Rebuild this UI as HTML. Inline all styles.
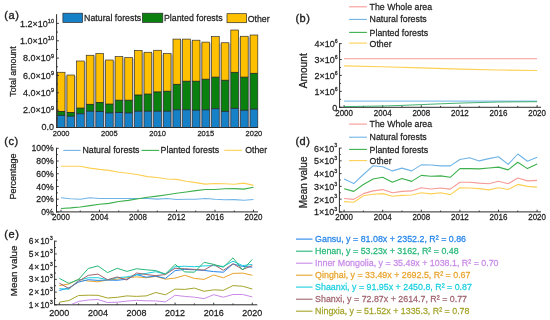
<!DOCTYPE html>
<html><head><meta charset="utf-8"><style>
html,body{margin:0;padding:0;background:#fff;width:550px;height:320px;overflow:hidden}
svg{display:block;filter:blur(0.35px)}
text{font-family:"Liberation Sans", sans-serif;stroke-width:0.25px}
</style></head><body>
<svg width="550" height="320" viewBox="0 0 550 320">
<rect width="550" height="320" fill="#fff"/>
<text transform="translate(4.30,18.50)" font-size="11.00" text-anchor="start" fill="#1e1e1e" stroke="#1e1e1e" style="stroke-width:0.35px" letter-spacing="0.55">(a)</text>
<rect x="65.00" y="76.00" width="1.94" height="51.50" fill="#cdcdda" stroke="none" stroke-width="0"/>
<rect x="74.64" y="76.00" width="1.94" height="51.50" fill="#cdcdda" stroke="none" stroke-width="0"/>
<rect x="84.28" y="62.00" width="1.94" height="65.50" fill="#cdcdda" stroke="none" stroke-width="0"/>
<rect x="93.92" y="56.25" width="1.94" height="71.25" fill="#cdcdda" stroke="none" stroke-width="0"/>
<rect x="103.56" y="61.00" width="1.94" height="66.50" fill="#cdcdda" stroke="none" stroke-width="0"/>
<rect x="113.20" y="61.00" width="1.94" height="66.50" fill="#cdcdda" stroke="none" stroke-width="0"/>
<rect x="122.84" y="58.50" width="1.94" height="69.00" fill="#cdcdda" stroke="none" stroke-width="0"/>
<rect x="132.48" y="58.50" width="1.94" height="69.00" fill="#cdcdda" stroke="none" stroke-width="0"/>
<rect x="142.12" y="53.25" width="1.94" height="74.25" fill="#cdcdda" stroke="none" stroke-width="0"/>
<rect x="151.76" y="53.25" width="1.94" height="74.25" fill="#cdcdda" stroke="none" stroke-width="0"/>
<rect x="161.40" y="54.50" width="1.94" height="73.00" fill="#cdcdda" stroke="none" stroke-width="0"/>
<rect x="171.04" y="54.50" width="1.94" height="73.00" fill="#cdcdda" stroke="none" stroke-width="0"/>
<rect x="180.68" y="40.10" width="1.94" height="87.40" fill="#cdcdda" stroke="none" stroke-width="0"/>
<rect x="190.32" y="41.20" width="1.94" height="86.30" fill="#cdcdda" stroke="none" stroke-width="0"/>
<rect x="199.96" y="43.10" width="1.94" height="84.40" fill="#cdcdda" stroke="none" stroke-width="0"/>
<rect x="209.60" y="43.10" width="1.94" height="84.40" fill="#cdcdda" stroke="none" stroke-width="0"/>
<rect x="219.24" y="43.75" width="1.94" height="83.75" fill="#cdcdda" stroke="none" stroke-width="0"/>
<rect x="228.88" y="43.75" width="1.94" height="83.75" fill="#cdcdda" stroke="none" stroke-width="0"/>
<rect x="238.52" y="37.25" width="1.94" height="90.25" fill="#cdcdda" stroke="none" stroke-width="0"/>
<rect x="248.16" y="37.25" width="1.94" height="90.25" fill="#cdcdda" stroke="none" stroke-width="0"/>
<rect x="57.30" y="72.25" width="7.70" height="39.25" fill="#ffc000" stroke="none" stroke-width="0"/>
<rect x="57.30" y="111.50" width="7.70" height="3.90" fill="#0a800f" stroke="none" stroke-width="0"/>
<rect x="57.30" y="115.40" width="7.70" height="12.10" fill="#1781c8" stroke="none" stroke-width="0"/>
<rect x="57.30" y="72.25" width="7.70" height="55.25" fill="none" stroke="#262626" stroke-width="0.65"/>
<line x1="57.30" y1="111.50" x2="65.00" y2="111.50" stroke="#1a1a1a" stroke-width="0.8"/>
<line x1="57.30" y1="115.40" x2="65.00" y2="115.40" stroke="#1a1a1a" stroke-width="0.8"/>
<rect x="66.94" y="75.00" width="7.70" height="37.50" fill="#ffc000" stroke="none" stroke-width="0"/>
<rect x="66.94" y="112.50" width="7.70" height="3.75" fill="#0a800f" stroke="none" stroke-width="0"/>
<rect x="66.94" y="116.25" width="7.70" height="11.25" fill="#1781c8" stroke="none" stroke-width="0"/>
<rect x="66.94" y="75.00" width="7.70" height="52.50" fill="none" stroke="#262626" stroke-width="0.65"/>
<line x1="66.94" y1="112.50" x2="74.64" y2="112.50" stroke="#1a1a1a" stroke-width="0.8"/>
<line x1="66.94" y1="116.25" x2="74.64" y2="116.25" stroke="#1a1a1a" stroke-width="0.8"/>
<rect x="76.58" y="61.00" width="7.70" height="47.10" fill="#ffc000" stroke="none" stroke-width="0"/>
<rect x="76.58" y="108.10" width="7.70" height="5.65" fill="#0a800f" stroke="none" stroke-width="0"/>
<rect x="76.58" y="113.75" width="7.70" height="13.75" fill="#1781c8" stroke="none" stroke-width="0"/>
<rect x="76.58" y="61.00" width="7.70" height="66.50" fill="none" stroke="#262626" stroke-width="0.65"/>
<line x1="76.58" y1="108.10" x2="84.28" y2="108.10" stroke="#1a1a1a" stroke-width="0.8"/>
<line x1="76.58" y1="113.75" x2="84.28" y2="113.75" stroke="#1a1a1a" stroke-width="0.8"/>
<rect x="86.22" y="55.25" width="7.70" height="49.15" fill="#ffc000" stroke="none" stroke-width="0"/>
<rect x="86.22" y="104.40" width="7.70" height="6.85" fill="#0a800f" stroke="none" stroke-width="0"/>
<rect x="86.22" y="111.25" width="7.70" height="16.25" fill="#1781c8" stroke="none" stroke-width="0"/>
<rect x="86.22" y="55.25" width="7.70" height="72.25" fill="none" stroke="#262626" stroke-width="0.65"/>
<line x1="86.22" y1="104.40" x2="93.92" y2="104.40" stroke="#1a1a1a" stroke-width="0.8"/>
<line x1="86.22" y1="111.25" x2="93.92" y2="111.25" stroke="#1a1a1a" stroke-width="0.8"/>
<rect x="95.86" y="53.50" width="7.70" height="49.00" fill="#ffc000" stroke="none" stroke-width="0"/>
<rect x="95.86" y="102.50" width="7.70" height="9.00" fill="#0a800f" stroke="none" stroke-width="0"/>
<rect x="95.86" y="111.50" width="7.70" height="16.00" fill="#1781c8" stroke="none" stroke-width="0"/>
<rect x="95.86" y="53.50" width="7.70" height="74.00" fill="none" stroke="#262626" stroke-width="0.65"/>
<line x1="95.86" y1="102.50" x2="103.56" y2="102.50" stroke="#1a1a1a" stroke-width="0.8"/>
<line x1="95.86" y1="111.50" x2="103.56" y2="111.50" stroke="#1a1a1a" stroke-width="0.8"/>
<rect x="105.50" y="60.00" width="7.70" height="44.10" fill="#ffc000" stroke="none" stroke-width="0"/>
<rect x="105.50" y="104.10" width="7.70" height="8.80" fill="#0a800f" stroke="none" stroke-width="0"/>
<rect x="105.50" y="112.90" width="7.70" height="14.60" fill="#1781c8" stroke="none" stroke-width="0"/>
<rect x="105.50" y="60.00" width="7.70" height="67.50" fill="none" stroke="#262626" stroke-width="0.65"/>
<line x1="105.50" y1="104.10" x2="113.20" y2="104.10" stroke="#1a1a1a" stroke-width="0.8"/>
<line x1="105.50" y1="112.90" x2="113.20" y2="112.90" stroke="#1a1a1a" stroke-width="0.8"/>
<rect x="115.14" y="56.60" width="7.70" height="43.65" fill="#ffc000" stroke="none" stroke-width="0"/>
<rect x="115.14" y="100.25" width="7.70" height="12.25" fill="#0a800f" stroke="none" stroke-width="0"/>
<rect x="115.14" y="112.50" width="7.70" height="15.00" fill="#1781c8" stroke="none" stroke-width="0"/>
<rect x="115.14" y="56.60" width="7.70" height="70.90" fill="none" stroke="#262626" stroke-width="0.65"/>
<line x1="115.14" y1="100.25" x2="122.84" y2="100.25" stroke="#1a1a1a" stroke-width="0.8"/>
<line x1="115.14" y1="112.50" x2="122.84" y2="112.50" stroke="#1a1a1a" stroke-width="0.8"/>
<rect x="124.78" y="57.50" width="7.70" height="42.75" fill="#ffc000" stroke="none" stroke-width="0"/>
<rect x="124.78" y="100.25" width="7.70" height="12.65" fill="#0a800f" stroke="none" stroke-width="0"/>
<rect x="124.78" y="112.90" width="7.70" height="14.60" fill="#1781c8" stroke="none" stroke-width="0"/>
<rect x="124.78" y="57.50" width="7.70" height="70.00" fill="none" stroke="#262626" stroke-width="0.65"/>
<line x1="124.78" y1="100.25" x2="132.48" y2="100.25" stroke="#1a1a1a" stroke-width="0.8"/>
<line x1="124.78" y1="112.90" x2="132.48" y2="112.90" stroke="#1a1a1a" stroke-width="0.8"/>
<rect x="134.42" y="50.40" width="7.70" height="44.60" fill="#ffc000" stroke="none" stroke-width="0"/>
<rect x="134.42" y="95.00" width="7.70" height="16.25" fill="#0a800f" stroke="none" stroke-width="0"/>
<rect x="134.42" y="111.25" width="7.70" height="16.25" fill="#1781c8" stroke="none" stroke-width="0"/>
<rect x="134.42" y="50.40" width="7.70" height="77.10" fill="none" stroke="#262626" stroke-width="0.65"/>
<line x1="134.42" y1="95.00" x2="142.12" y2="95.00" stroke="#1a1a1a" stroke-width="0.8"/>
<line x1="134.42" y1="111.25" x2="142.12" y2="111.25" stroke="#1a1a1a" stroke-width="0.8"/>
<rect x="144.06" y="52.25" width="7.70" height="41.85" fill="#ffc000" stroke="none" stroke-width="0"/>
<rect x="144.06" y="94.10" width="7.70" height="17.15" fill="#0a800f" stroke="none" stroke-width="0"/>
<rect x="144.06" y="111.25" width="7.70" height="16.25" fill="#1781c8" stroke="none" stroke-width="0"/>
<rect x="144.06" y="52.25" width="7.70" height="75.25" fill="none" stroke="#262626" stroke-width="0.65"/>
<line x1="144.06" y1="94.10" x2="151.76" y2="94.10" stroke="#1a1a1a" stroke-width="0.8"/>
<line x1="144.06" y1="111.25" x2="151.76" y2="111.25" stroke="#1a1a1a" stroke-width="0.8"/>
<rect x="153.70" y="50.25" width="7.70" height="41.65" fill="#ffc000" stroke="none" stroke-width="0"/>
<rect x="153.70" y="91.90" width="7.70" height="19.35" fill="#0a800f" stroke="none" stroke-width="0"/>
<rect x="153.70" y="111.25" width="7.70" height="16.25" fill="#1781c8" stroke="none" stroke-width="0"/>
<rect x="153.70" y="50.25" width="7.70" height="77.25" fill="none" stroke="#262626" stroke-width="0.65"/>
<line x1="153.70" y1="91.90" x2="161.40" y2="91.90" stroke="#1a1a1a" stroke-width="0.8"/>
<line x1="153.70" y1="111.25" x2="161.40" y2="111.25" stroke="#1a1a1a" stroke-width="0.8"/>
<rect x="163.34" y="53.50" width="7.70" height="37.75" fill="#ffc000" stroke="none" stroke-width="0"/>
<rect x="163.34" y="91.25" width="7.70" height="20.00" fill="#0a800f" stroke="none" stroke-width="0"/>
<rect x="163.34" y="111.25" width="7.70" height="16.25" fill="#1781c8" stroke="none" stroke-width="0"/>
<rect x="163.34" y="53.50" width="7.70" height="74.00" fill="none" stroke="#262626" stroke-width="0.65"/>
<line x1="163.34" y1="91.25" x2="171.04" y2="91.25" stroke="#1a1a1a" stroke-width="0.8"/>
<line x1="163.34" y1="111.25" x2="171.04" y2="111.25" stroke="#1a1a1a" stroke-width="0.8"/>
<rect x="172.98" y="39.10" width="7.70" height="45.30" fill="#ffc000" stroke="none" stroke-width="0"/>
<rect x="172.98" y="84.40" width="7.70" height="25.35" fill="#0a800f" stroke="none" stroke-width="0"/>
<rect x="172.98" y="109.75" width="7.70" height="17.75" fill="#1781c8" stroke="none" stroke-width="0"/>
<rect x="172.98" y="39.10" width="7.70" height="88.40" fill="none" stroke="#262626" stroke-width="0.65"/>
<line x1="172.98" y1="84.40" x2="180.68" y2="84.40" stroke="#1a1a1a" stroke-width="0.8"/>
<line x1="172.98" y1="109.75" x2="180.68" y2="109.75" stroke="#1a1a1a" stroke-width="0.8"/>
<rect x="182.62" y="39.10" width="7.70" height="42.15" fill="#ffc000" stroke="none" stroke-width="0"/>
<rect x="182.62" y="81.25" width="7.70" height="28.50" fill="#0a800f" stroke="none" stroke-width="0"/>
<rect x="182.62" y="109.75" width="7.70" height="17.75" fill="#1781c8" stroke="none" stroke-width="0"/>
<rect x="182.62" y="39.10" width="7.70" height="88.40" fill="none" stroke="#262626" stroke-width="0.65"/>
<line x1="182.62" y1="81.25" x2="190.32" y2="81.25" stroke="#1a1a1a" stroke-width="0.8"/>
<line x1="182.62" y1="109.75" x2="190.32" y2="109.75" stroke="#1a1a1a" stroke-width="0.8"/>
<rect x="192.26" y="40.20" width="7.70" height="41.05" fill="#ffc000" stroke="none" stroke-width="0"/>
<rect x="192.26" y="81.25" width="7.70" height="29.00" fill="#0a800f" stroke="none" stroke-width="0"/>
<rect x="192.26" y="110.25" width="7.70" height="17.25" fill="#1781c8" stroke="none" stroke-width="0"/>
<rect x="192.26" y="40.20" width="7.70" height="87.30" fill="none" stroke="#262626" stroke-width="0.65"/>
<line x1="192.26" y1="81.25" x2="199.96" y2="81.25" stroke="#1a1a1a" stroke-width="0.8"/>
<line x1="192.26" y1="110.25" x2="199.96" y2="110.25" stroke="#1a1a1a" stroke-width="0.8"/>
<rect x="201.90" y="42.10" width="7.70" height="37.15" fill="#ffc000" stroke="none" stroke-width="0"/>
<rect x="201.90" y="79.25" width="7.70" height="30.55" fill="#0a800f" stroke="none" stroke-width="0"/>
<rect x="201.90" y="109.80" width="7.70" height="17.70" fill="#1781c8" stroke="none" stroke-width="0"/>
<rect x="201.90" y="42.10" width="7.70" height="85.40" fill="none" stroke="#262626" stroke-width="0.65"/>
<line x1="201.90" y1="79.25" x2="209.60" y2="79.25" stroke="#1a1a1a" stroke-width="0.8"/>
<line x1="201.90" y1="109.80" x2="209.60" y2="109.80" stroke="#1a1a1a" stroke-width="0.8"/>
<rect x="211.54" y="36.60" width="7.70" height="40.60" fill="#ffc000" stroke="none" stroke-width="0"/>
<rect x="211.54" y="77.20" width="7.70" height="31.50" fill="#0a800f" stroke="none" stroke-width="0"/>
<rect x="211.54" y="108.70" width="7.70" height="18.80" fill="#1781c8" stroke="none" stroke-width="0"/>
<rect x="211.54" y="36.60" width="7.70" height="90.90" fill="none" stroke="#262626" stroke-width="0.65"/>
<line x1="211.54" y1="77.20" x2="219.24" y2="77.20" stroke="#1a1a1a" stroke-width="0.8"/>
<line x1="211.54" y1="108.70" x2="219.24" y2="108.70" stroke="#1a1a1a" stroke-width="0.8"/>
<rect x="221.18" y="42.75" width="7.70" height="37.55" fill="#ffc000" stroke="none" stroke-width="0"/>
<rect x="221.18" y="80.30" width="7.70" height="31.10" fill="#0a800f" stroke="none" stroke-width="0"/>
<rect x="221.18" y="111.40" width="7.70" height="16.10" fill="#1781c8" stroke="none" stroke-width="0"/>
<rect x="221.18" y="42.75" width="7.70" height="84.75" fill="none" stroke="#262626" stroke-width="0.65"/>
<line x1="221.18" y1="80.30" x2="228.88" y2="80.30" stroke="#1a1a1a" stroke-width="0.8"/>
<line x1="221.18" y1="111.40" x2="228.88" y2="111.40" stroke="#1a1a1a" stroke-width="0.8"/>
<rect x="230.82" y="30.00" width="7.70" height="42.40" fill="#ffc000" stroke="none" stroke-width="0"/>
<rect x="230.82" y="72.40" width="7.70" height="36.00" fill="#0a800f" stroke="none" stroke-width="0"/>
<rect x="230.82" y="108.40" width="7.70" height="19.10" fill="#1781c8" stroke="none" stroke-width="0"/>
<rect x="230.82" y="30.00" width="7.70" height="97.50" fill="none" stroke="#262626" stroke-width="0.65"/>
<line x1="230.82" y1="72.40" x2="238.52" y2="72.40" stroke="#1a1a1a" stroke-width="0.8"/>
<line x1="230.82" y1="108.40" x2="238.52" y2="108.40" stroke="#1a1a1a" stroke-width="0.8"/>
<rect x="240.46" y="36.25" width="7.70" height="40.95" fill="#ffc000" stroke="none" stroke-width="0"/>
<rect x="240.46" y="77.20" width="7.70" height="33.10" fill="#0a800f" stroke="none" stroke-width="0"/>
<rect x="240.46" y="110.30" width="7.70" height="17.20" fill="#1781c8" stroke="none" stroke-width="0"/>
<rect x="240.46" y="36.25" width="7.70" height="91.25" fill="none" stroke="#262626" stroke-width="0.65"/>
<line x1="240.46" y1="77.20" x2="248.16" y2="77.20" stroke="#1a1a1a" stroke-width="0.8"/>
<line x1="240.46" y1="110.30" x2="248.16" y2="110.30" stroke="#1a1a1a" stroke-width="0.8"/>
<rect x="250.10" y="35.00" width="7.70" height="38.40" fill="#ffc000" stroke="none" stroke-width="0"/>
<rect x="250.10" y="73.40" width="7.70" height="35.80" fill="#0a800f" stroke="none" stroke-width="0"/>
<rect x="250.10" y="109.20" width="7.70" height="18.30" fill="#1781c8" stroke="none" stroke-width="0"/>
<rect x="250.10" y="35.00" width="7.70" height="92.50" fill="none" stroke="#262626" stroke-width="0.65"/>
<line x1="250.10" y1="73.40" x2="257.80" y2="73.40" stroke="#1a1a1a" stroke-width="0.8"/>
<line x1="250.10" y1="109.20" x2="257.80" y2="109.20" stroke="#1a1a1a" stroke-width="0.8"/>
<line x1="56.60" y1="14.20" x2="56.60" y2="128.00" stroke="#2a2a2a" stroke-width="1"/>
<line x1="56.10" y1="127.50" x2="258.00" y2="127.50" stroke="#2a2a2a" stroke-width="1"/>
<line x1="56.60" y1="127.50" x2="58.90" y2="127.50" stroke="#2a2a2a" stroke-width="0.9"/>
<line x1="56.60" y1="118.83" x2="58.00" y2="118.83" stroke="#2a2a2a" stroke-width="0.9"/>
<line x1="56.60" y1="110.15" x2="58.90" y2="110.15" stroke="#2a2a2a" stroke-width="0.9"/>
<line x1="56.60" y1="101.48" x2="58.00" y2="101.48" stroke="#2a2a2a" stroke-width="0.9"/>
<line x1="56.60" y1="92.80" x2="58.90" y2="92.80" stroke="#2a2a2a" stroke-width="0.9"/>
<line x1="56.60" y1="84.13" x2="58.00" y2="84.13" stroke="#2a2a2a" stroke-width="0.9"/>
<line x1="56.60" y1="75.45" x2="58.90" y2="75.45" stroke="#2a2a2a" stroke-width="0.9"/>
<line x1="56.60" y1="66.78" x2="58.00" y2="66.78" stroke="#2a2a2a" stroke-width="0.9"/>
<line x1="56.60" y1="58.10" x2="58.90" y2="58.10" stroke="#2a2a2a" stroke-width="0.9"/>
<line x1="56.60" y1="49.43" x2="58.00" y2="49.43" stroke="#2a2a2a" stroke-width="0.9"/>
<line x1="56.60" y1="40.75" x2="58.90" y2="40.75" stroke="#2a2a2a" stroke-width="0.9"/>
<line x1="56.60" y1="32.08" x2="58.00" y2="32.08" stroke="#2a2a2a" stroke-width="0.9"/>
<line x1="56.60" y1="23.40" x2="58.90" y2="23.40" stroke="#2a2a2a" stroke-width="0.9"/>
<text transform="translate(53.90,130.00) scale(0.9259,1)" font-size="9.72" text-anchor="end" fill="#1e1e1e" stroke="#1e1e1e">0.0</text>
<text transform="translate(54.00,113.45) scale(0.9259,1)" font-size="9.72" text-anchor="end" fill="#1e1e1e" stroke="#1e1e1e">2.0×10<tspan font-size="6.05" dy="-3.90">9</tspan></text>
<text transform="translate(54.00,96.10) scale(0.9259,1)" font-size="9.72" text-anchor="end" fill="#1e1e1e" stroke="#1e1e1e">4.0×10<tspan font-size="6.05" dy="-3.90">9</tspan></text>
<text transform="translate(54.00,78.75) scale(0.9259,1)" font-size="9.72" text-anchor="end" fill="#1e1e1e" stroke="#1e1e1e">6.0×10<tspan font-size="6.05" dy="-3.90">9</tspan></text>
<text transform="translate(54.00,61.40) scale(0.9259,1)" font-size="9.72" text-anchor="end" fill="#1e1e1e" stroke="#1e1e1e">8.0×10<tspan font-size="6.05" dy="-3.90">9</tspan></text>
<text transform="translate(54.00,44.05) scale(0.9259,1)" font-size="9.72" text-anchor="end" fill="#1e1e1e" stroke="#1e1e1e">1.0×10<tspan font-size="6.05" dy="-3.90">10</tspan></text>
<text transform="translate(54.00,26.70) scale(0.9259,1)" font-size="9.72" text-anchor="end" fill="#1e1e1e" stroke="#1e1e1e">1.2×10<tspan font-size="6.05" dy="-3.90">10</tspan></text>
<text transform="translate(61.15,135.60) scale(0.9259,1)" font-size="8.10" text-anchor="middle" fill="#1e1e1e" stroke="#1e1e1e">2000</text>
<text transform="translate(109.35,135.60) scale(0.9259,1)" font-size="8.10" text-anchor="middle" fill="#1e1e1e" stroke="#1e1e1e">2005</text>
<text transform="translate(157.55,135.60) scale(0.9259,1)" font-size="8.10" text-anchor="middle" fill="#1e1e1e" stroke="#1e1e1e">2010</text>
<text transform="translate(205.75,135.60) scale(0.9259,1)" font-size="8.10" text-anchor="middle" fill="#1e1e1e" stroke="#1e1e1e">2015</text>
<text transform="translate(253.95,135.60) scale(0.9259,1)" font-size="8.10" text-anchor="middle" fill="#1e1e1e" stroke="#1e1e1e">2020</text>
<text transform="translate(16.40,71.50) rotate(-90)" font-size="8.80" text-anchor="middle" fill="#1e1e1e" stroke="#1e1e1e">Total amount</text>
<rect x="62.90" y="13.20" width="19.60" height="9.20" fill="#1781c8" stroke="#2a2a2a" stroke-width="0.7"/>
<text transform="translate(84.10,20.70) scale(0.9259,1)" font-size="9.50" text-anchor="start" fill="#1e1e1e" stroke="#1e1e1e">Natural forests</text>
<rect x="142.40" y="13.20" width="20.40" height="9.20" fill="#0a800f" stroke="#2a2a2a" stroke-width="0.7"/>
<text transform="translate(164.00,20.70) scale(0.9259,1)" font-size="9.50" text-anchor="start" fill="#1e1e1e" stroke="#1e1e1e">Planted forests</text>
<rect x="227.00" y="13.70" width="19.60" height="9.00" fill="#ffc000" stroke="#2a2a2a" stroke-width="0.7"/>
<text transform="translate(247.70,21.90) scale(0.9259,1)" font-size="9.50" text-anchor="start" fill="#1e1e1e" stroke="#1e1e1e">Other</text>
<text transform="translate(4.30,145.20)" font-size="11.00" text-anchor="start" fill="#1e1e1e" stroke="#1e1e1e" style="stroke-width:0.35px" letter-spacing="0.55">(c)</text>
<line x1="56.50" y1="147.80" x2="56.50" y2="212.40" stroke="#2a2a2a" stroke-width="1"/>
<line x1="56.00" y1="211.90" x2="258.00" y2="211.90" stroke="#2a2a2a" stroke-width="1"/>
<line x1="56.50" y1="211.90" x2="58.70" y2="211.90" stroke="#2a2a2a" stroke-width="0.9"/>
<line x1="56.50" y1="205.54" x2="57.90" y2="205.54" stroke="#2a2a2a" stroke-width="0.9"/>
<line x1="56.50" y1="199.18" x2="58.70" y2="199.18" stroke="#2a2a2a" stroke-width="0.9"/>
<line x1="56.50" y1="192.82" x2="57.90" y2="192.82" stroke="#2a2a2a" stroke-width="0.9"/>
<line x1="56.50" y1="186.46" x2="58.70" y2="186.46" stroke="#2a2a2a" stroke-width="0.9"/>
<line x1="56.50" y1="180.10" x2="57.90" y2="180.10" stroke="#2a2a2a" stroke-width="0.9"/>
<line x1="56.50" y1="173.74" x2="58.70" y2="173.74" stroke="#2a2a2a" stroke-width="0.9"/>
<line x1="56.50" y1="167.38" x2="57.90" y2="167.38" stroke="#2a2a2a" stroke-width="0.9"/>
<line x1="56.50" y1="161.02" x2="58.70" y2="161.02" stroke="#2a2a2a" stroke-width="0.9"/>
<line x1="56.50" y1="154.66" x2="57.90" y2="154.66" stroke="#2a2a2a" stroke-width="0.9"/>
<line x1="56.50" y1="148.30" x2="58.70" y2="148.30" stroke="#2a2a2a" stroke-width="0.9"/>
<text transform="translate(53.70,215.00) scale(0.9259,1)" font-size="9.40" text-anchor="end" fill="#1e1e1e" stroke="#1e1e1e">0%</text>
<text transform="translate(53.70,202.28) scale(0.9259,1)" font-size="9.40" text-anchor="end" fill="#1e1e1e" stroke="#1e1e1e">20%</text>
<text transform="translate(53.70,189.56) scale(0.9259,1)" font-size="9.40" text-anchor="end" fill="#1e1e1e" stroke="#1e1e1e">40%</text>
<text transform="translate(53.70,176.84) scale(0.9259,1)" font-size="9.40" text-anchor="end" fill="#1e1e1e" stroke="#1e1e1e">60%</text>
<text transform="translate(53.70,164.12) scale(0.9259,1)" font-size="9.40" text-anchor="end" fill="#1e1e1e" stroke="#1e1e1e">80%</text>
<text transform="translate(53.70,151.40) scale(0.9259,1)" font-size="9.40" text-anchor="end" fill="#1e1e1e" stroke="#1e1e1e">100%</text>
<line x1="61.00" y1="211.90" x2="61.00" y2="209.70" stroke="#2a2a2a" stroke-width="0.9"/>
<line x1="80.25" y1="211.90" x2="80.25" y2="210.50" stroke="#2a2a2a" stroke-width="0.9"/>
<line x1="99.50" y1="211.90" x2="99.50" y2="209.70" stroke="#2a2a2a" stroke-width="0.9"/>
<line x1="118.75" y1="211.90" x2="118.75" y2="210.50" stroke="#2a2a2a" stroke-width="0.9"/>
<line x1="138.00" y1="211.90" x2="138.00" y2="209.70" stroke="#2a2a2a" stroke-width="0.9"/>
<line x1="157.25" y1="211.90" x2="157.25" y2="210.50" stroke="#2a2a2a" stroke-width="0.9"/>
<line x1="176.50" y1="211.90" x2="176.50" y2="209.70" stroke="#2a2a2a" stroke-width="0.9"/>
<line x1="195.75" y1="211.90" x2="195.75" y2="210.50" stroke="#2a2a2a" stroke-width="0.9"/>
<line x1="215.00" y1="211.90" x2="215.00" y2="209.70" stroke="#2a2a2a" stroke-width="0.9"/>
<line x1="234.25" y1="211.90" x2="234.25" y2="210.50" stroke="#2a2a2a" stroke-width="0.9"/>
<line x1="253.50" y1="211.90" x2="253.50" y2="209.70" stroke="#2a2a2a" stroke-width="0.9"/>
<text transform="translate(61.00,220.30) scale(0.9259,1)" font-size="8.64" text-anchor="middle" fill="#1e1e1e" stroke="#1e1e1e">2000</text>
<text transform="translate(99.50,220.30) scale(0.9259,1)" font-size="8.64" text-anchor="middle" fill="#1e1e1e" stroke="#1e1e1e">2004</text>
<text transform="translate(138.00,220.30) scale(0.9259,1)" font-size="8.64" text-anchor="middle" fill="#1e1e1e" stroke="#1e1e1e">2008</text>
<text transform="translate(176.50,220.30) scale(0.9259,1)" font-size="8.64" text-anchor="middle" fill="#1e1e1e" stroke="#1e1e1e">2012</text>
<text transform="translate(215.00,220.30) scale(0.9259,1)" font-size="8.64" text-anchor="middle" fill="#1e1e1e" stroke="#1e1e1e">2016</text>
<text transform="translate(253.50,220.30) scale(0.9259,1)" font-size="8.64" text-anchor="middle" fill="#1e1e1e" stroke="#1e1e1e">2020</text>
<text transform="translate(16.10,176.50) rotate(-90)" font-size="9.00" text-anchor="middle" fill="#1e1e1e" stroke="#1e1e1e">Percentage</text>
<polyline points="61.00,166.25 70.62,166.25 80.25,166.25 89.88,168.10 99.50,169.40 109.12,170.40 118.75,172.30 128.38,173.20 138.00,174.70 147.62,176.60 157.25,177.50 166.88,179.00 176.50,179.40 186.12,181.30 195.75,182.60 205.38,184.10 215.00,183.50 224.62,183.70 234.25,184.30 243.88,183.10 253.50,185.40" fill="none" stroke="#fdd054" stroke-width="1.1" stroke-linejoin="round" />
<polyline points="61.00,197.80 70.62,198.70 80.25,199.30 89.88,197.80 99.50,198.50 109.12,198.50 118.75,198.50 128.38,198.50 138.00,198.50 147.62,198.50 157.25,199.10 166.88,198.50 176.50,199.50 186.12,199.30 195.75,199.30 205.38,198.50 215.00,199.30 224.62,199.80 234.25,199.60 243.88,200.20 253.50,199.50" fill="none" stroke="#70b4e6" stroke-width="1.1" stroke-linejoin="round" />
<polyline points="61.00,208.50 70.62,207.90 80.25,207.00 89.88,205.60 99.50,204.30 109.12,203.40 118.75,201.50 128.38,200.40 138.00,198.70 147.62,197.20 157.25,196.10 166.88,194.80 176.50,193.30 186.12,192.00 195.75,190.60 205.38,189.50 215.00,189.50 224.62,188.80 234.25,188.60 243.88,189.10 253.50,187.30" fill="none" stroke="#3cb04c" stroke-width="1.1" stroke-linejoin="round" />
<line x1="63.30" y1="150.40" x2="80.50" y2="150.40" stroke="#70b4e6" stroke-width="1.1"/>
<text transform="translate(82.40,152.60) scale(0.9259,1)" font-size="9.50" text-anchor="start" fill="#1e1e1e" stroke="#1e1e1e">Natural forests</text>
<line x1="141.50" y1="150.40" x2="159.10" y2="150.40" stroke="#3cb04c" stroke-width="1.1"/>
<text transform="translate(160.60,152.60) scale(0.9259,1)" font-size="9.50" text-anchor="start" fill="#1e1e1e" stroke="#1e1e1e">Planted forests</text>
<line x1="224.30" y1="150.30" x2="242.00" y2="150.30" stroke="#fdd054" stroke-width="1.1"/>
<text transform="translate(245.20,152.60) scale(0.9259,1)" font-size="9.50" text-anchor="start" fill="#1e1e1e" stroke="#1e1e1e">Other</text>
<text transform="translate(295.40,21.50)" font-size="11.00" text-anchor="start" fill="#1e1e1e" stroke="#1e1e1e" style="stroke-width:0.35px" letter-spacing="0.55">(b)</text>
<line x1="339.60" y1="43.10" x2="339.60" y2="107.80" stroke="#2a2a2a" stroke-width="1"/>
<line x1="339.10" y1="107.30" x2="541.00" y2="107.30" stroke="#2a2a2a" stroke-width="1"/>
<line x1="339.60" y1="107.30" x2="341.80" y2="107.30" stroke="#2a2a2a" stroke-width="0.9"/>
<line x1="339.60" y1="99.34" x2="341.00" y2="99.34" stroke="#2a2a2a" stroke-width="0.9"/>
<line x1="339.60" y1="91.38" x2="341.80" y2="91.38" stroke="#2a2a2a" stroke-width="0.9"/>
<line x1="339.60" y1="83.41" x2="341.00" y2="83.41" stroke="#2a2a2a" stroke-width="0.9"/>
<line x1="339.60" y1="75.45" x2="341.80" y2="75.45" stroke="#2a2a2a" stroke-width="0.9"/>
<line x1="339.60" y1="67.49" x2="341.00" y2="67.49" stroke="#2a2a2a" stroke-width="0.9"/>
<line x1="339.60" y1="59.52" x2="341.80" y2="59.52" stroke="#2a2a2a" stroke-width="0.9"/>
<line x1="339.60" y1="51.56" x2="341.00" y2="51.56" stroke="#2a2a2a" stroke-width="0.9"/>
<line x1="339.60" y1="43.60" x2="341.80" y2="43.60" stroke="#2a2a2a" stroke-width="0.9"/>
<text transform="translate(337.20,110.70) scale(0.9259,1)" font-size="9.72" text-anchor="end" fill="#1e1e1e" stroke="#1e1e1e">0</text>
<text transform="translate(337.60,94.88) scale(0.9259,1)" font-size="9.72" text-anchor="end" fill="#1e1e1e" stroke="#1e1e1e">1×10<tspan font-size="5.62" dy="-4.20">6</tspan></text>
<text transform="translate(337.60,78.95) scale(0.9259,1)" font-size="9.72" text-anchor="end" fill="#1e1e1e" stroke="#1e1e1e">2×10<tspan font-size="5.62" dy="-4.20">6</tspan></text>
<text transform="translate(337.60,63.02) scale(0.9259,1)" font-size="9.72" text-anchor="end" fill="#1e1e1e" stroke="#1e1e1e">3×10<tspan font-size="5.62" dy="-4.20">6</tspan></text>
<text transform="translate(337.60,47.10) scale(0.9259,1)" font-size="9.72" text-anchor="end" fill="#1e1e1e" stroke="#1e1e1e">4×10<tspan font-size="5.62" dy="-4.20">6</tspan></text>
<line x1="344.10" y1="107.30" x2="344.10" y2="105.10" stroke="#2a2a2a" stroke-width="0.9"/>
<line x1="363.40" y1="107.30" x2="363.40" y2="105.90" stroke="#2a2a2a" stroke-width="0.9"/>
<line x1="382.70" y1="107.30" x2="382.70" y2="105.10" stroke="#2a2a2a" stroke-width="0.9"/>
<line x1="402.00" y1="107.30" x2="402.00" y2="105.90" stroke="#2a2a2a" stroke-width="0.9"/>
<line x1="421.30" y1="107.30" x2="421.30" y2="105.10" stroke="#2a2a2a" stroke-width="0.9"/>
<line x1="440.60" y1="107.30" x2="440.60" y2="105.90" stroke="#2a2a2a" stroke-width="0.9"/>
<line x1="459.90" y1="107.30" x2="459.90" y2="105.10" stroke="#2a2a2a" stroke-width="0.9"/>
<line x1="479.20" y1="107.30" x2="479.20" y2="105.90" stroke="#2a2a2a" stroke-width="0.9"/>
<line x1="498.50" y1="107.30" x2="498.50" y2="105.10" stroke="#2a2a2a" stroke-width="0.9"/>
<line x1="517.80" y1="107.30" x2="517.80" y2="105.90" stroke="#2a2a2a" stroke-width="0.9"/>
<line x1="537.10" y1="107.30" x2="537.10" y2="105.10" stroke="#2a2a2a" stroke-width="0.9"/>
<text transform="translate(344.10,115.50) scale(0.9259,1)" font-size="8.64" text-anchor="middle" fill="#1e1e1e" stroke="#1e1e1e">2000</text>
<text transform="translate(382.70,115.50) scale(0.9259,1)" font-size="8.64" text-anchor="middle" fill="#1e1e1e" stroke="#1e1e1e">2004</text>
<text transform="translate(421.30,115.50) scale(0.9259,1)" font-size="8.64" text-anchor="middle" fill="#1e1e1e" stroke="#1e1e1e">2008</text>
<text transform="translate(459.90,115.50) scale(0.9259,1)" font-size="8.64" text-anchor="middle" fill="#1e1e1e" stroke="#1e1e1e">2012</text>
<text transform="translate(498.50,115.50) scale(0.9259,1)" font-size="8.64" text-anchor="middle" fill="#1e1e1e" stroke="#1e1e1e">2016</text>
<text transform="translate(537.10,115.50) scale(0.9259,1)" font-size="8.64" text-anchor="middle" fill="#1e1e1e" stroke="#1e1e1e">2020</text>
<text transform="translate(307.00,70.80) rotate(-90)" font-size="10.20" text-anchor="middle" fill="#1e1e1e" stroke="#1e1e1e">Amount</text>
<polyline points="344.10,58.70 537.10,58.70" fill="none" stroke="#f69a94" stroke-width="1.1" stroke-linejoin="round" />
<polyline points="344.10,65.90 382.70,66.80 421.30,67.90 459.90,69.10 498.50,70.00 537.10,70.50" fill="none" stroke="#fdd054" stroke-width="1.1" stroke-linejoin="round" />
<polyline points="344.10,101.10 537.10,101.10" fill="none" stroke="#70b4e6" stroke-width="1.0" stroke-linejoin="round" />
<polyline points="344.10,106.60 382.70,106.00 402.00,105.40 421.30,104.60 440.60,103.80 459.90,103.10 498.50,102.00 537.10,101.70" fill="none" stroke="#30a860" stroke-width="1.0" stroke-linejoin="round" stroke-opacity="0.9"/>
<line x1="349.10" y1="6.80" x2="366.90" y2="6.80" stroke="#f69a94" stroke-width="1.1"/>
<text transform="translate(369.60,9.70) scale(0.9259,1)" font-size="9.50" text-anchor="start" fill="#1e1e1e" stroke="#1e1e1e">The Whole area</text>
<line x1="349.10" y1="19.40" x2="366.90" y2="19.40" stroke="#70b4e6" stroke-width="1.1"/>
<text transform="translate(369.60,22.00) scale(0.9259,1)" font-size="9.50" text-anchor="start" fill="#1e1e1e" stroke="#1e1e1e">Natural forests</text>
<line x1="349.10" y1="32.40" x2="366.90" y2="32.40" stroke="#3cb04c" stroke-width="1.1"/>
<text transform="translate(369.60,35.60) scale(0.9259,1)" font-size="9.50" text-anchor="start" fill="#1e1e1e" stroke="#1e1e1e">Planted forests</text>
<line x1="349.10" y1="43.10" x2="366.90" y2="43.10" stroke="#fdd054" stroke-width="1.1"/>
<text transform="translate(369.60,46.50) scale(0.9259,1)" font-size="9.50" text-anchor="start" fill="#1e1e1e" stroke="#1e1e1e">Other</text>
<text transform="translate(295.40,144.90)" font-size="11.00" text-anchor="start" fill="#1e1e1e" stroke="#1e1e1e" style="stroke-width:0.35px" letter-spacing="0.55">(d)</text>
<line x1="339.40" y1="147.80" x2="339.40" y2="212.40" stroke="#2a2a2a" stroke-width="1"/>
<line x1="338.90" y1="211.90" x2="541.00" y2="211.90" stroke="#2a2a2a" stroke-width="1"/>
<line x1="339.40" y1="211.90" x2="341.60" y2="211.90" stroke="#2a2a2a" stroke-width="0.9"/>
<line x1="339.40" y1="205.52" x2="340.80" y2="205.52" stroke="#2a2a2a" stroke-width="0.9"/>
<line x1="339.40" y1="199.14" x2="341.60" y2="199.14" stroke="#2a2a2a" stroke-width="0.9"/>
<line x1="339.40" y1="192.76" x2="340.80" y2="192.76" stroke="#2a2a2a" stroke-width="0.9"/>
<line x1="339.40" y1="186.38" x2="341.60" y2="186.38" stroke="#2a2a2a" stroke-width="0.9"/>
<line x1="339.40" y1="180.00" x2="340.80" y2="180.00" stroke="#2a2a2a" stroke-width="0.9"/>
<line x1="339.40" y1="173.62" x2="341.60" y2="173.62" stroke="#2a2a2a" stroke-width="0.9"/>
<line x1="339.40" y1="167.24" x2="340.80" y2="167.24" stroke="#2a2a2a" stroke-width="0.9"/>
<line x1="339.40" y1="160.86" x2="341.60" y2="160.86" stroke="#2a2a2a" stroke-width="0.9"/>
<line x1="339.40" y1="154.48" x2="340.80" y2="154.48" stroke="#2a2a2a" stroke-width="0.9"/>
<line x1="339.40" y1="148.10" x2="341.60" y2="148.10" stroke="#2a2a2a" stroke-width="0.9"/>
<text transform="translate(337.30,215.40) scale(0.9259,1)" font-size="9.72" text-anchor="end" fill="#1e1e1e" stroke="#1e1e1e">1×10<tspan font-size="5.83" dy="-4.20">3</tspan></text>
<text transform="translate(337.30,202.64) scale(0.9259,1)" font-size="9.72" text-anchor="end" fill="#1e1e1e" stroke="#1e1e1e">2×10<tspan font-size="5.83" dy="-4.20">3</tspan></text>
<text transform="translate(337.30,189.88) scale(0.9259,1)" font-size="9.72" text-anchor="end" fill="#1e1e1e" stroke="#1e1e1e">3×10<tspan font-size="5.83" dy="-4.20">3</tspan></text>
<text transform="translate(337.30,177.12) scale(0.9259,1)" font-size="9.72" text-anchor="end" fill="#1e1e1e" stroke="#1e1e1e">4×10<tspan font-size="5.83" dy="-4.20">3</tspan></text>
<text transform="translate(337.30,164.36) scale(0.9259,1)" font-size="9.72" text-anchor="end" fill="#1e1e1e" stroke="#1e1e1e">5×10<tspan font-size="5.83" dy="-4.20">3</tspan></text>
<text transform="translate(337.30,151.60) scale(0.9259,1)" font-size="9.72" text-anchor="end" fill="#1e1e1e" stroke="#1e1e1e">6×10<tspan font-size="5.83" dy="-4.20">3</tspan></text>
<line x1="344.10" y1="211.90" x2="344.10" y2="209.70" stroke="#2a2a2a" stroke-width="0.9"/>
<line x1="363.40" y1="211.90" x2="363.40" y2="210.50" stroke="#2a2a2a" stroke-width="0.9"/>
<line x1="382.70" y1="211.90" x2="382.70" y2="209.70" stroke="#2a2a2a" stroke-width="0.9"/>
<line x1="402.00" y1="211.90" x2="402.00" y2="210.50" stroke="#2a2a2a" stroke-width="0.9"/>
<line x1="421.30" y1="211.90" x2="421.30" y2="209.70" stroke="#2a2a2a" stroke-width="0.9"/>
<line x1="440.60" y1="211.90" x2="440.60" y2="210.50" stroke="#2a2a2a" stroke-width="0.9"/>
<line x1="459.90" y1="211.90" x2="459.90" y2="209.70" stroke="#2a2a2a" stroke-width="0.9"/>
<line x1="479.20" y1="211.90" x2="479.20" y2="210.50" stroke="#2a2a2a" stroke-width="0.9"/>
<line x1="498.50" y1="211.90" x2="498.50" y2="209.70" stroke="#2a2a2a" stroke-width="0.9"/>
<line x1="517.80" y1="211.90" x2="517.80" y2="210.50" stroke="#2a2a2a" stroke-width="0.9"/>
<line x1="537.10" y1="211.90" x2="537.10" y2="209.70" stroke="#2a2a2a" stroke-width="0.9"/>
<text transform="translate(344.10,220.40) scale(0.9259,1)" font-size="8.64" text-anchor="middle" fill="#1e1e1e" stroke="#1e1e1e">2000</text>
<text transform="translate(382.70,220.40) scale(0.9259,1)" font-size="8.64" text-anchor="middle" fill="#1e1e1e" stroke="#1e1e1e">2004</text>
<text transform="translate(421.30,220.40) scale(0.9259,1)" font-size="8.64" text-anchor="middle" fill="#1e1e1e" stroke="#1e1e1e">2008</text>
<text transform="translate(459.90,220.40) scale(0.9259,1)" font-size="8.64" text-anchor="middle" fill="#1e1e1e" stroke="#1e1e1e">2012</text>
<text transform="translate(498.50,220.40) scale(0.9259,1)" font-size="8.64" text-anchor="middle" fill="#1e1e1e" stroke="#1e1e1e">2016</text>
<text transform="translate(537.10,220.40) scale(0.9259,1)" font-size="8.64" text-anchor="middle" fill="#1e1e1e" stroke="#1e1e1e">2020</text>
<text transform="translate(306.80,182.40) rotate(-90)" font-size="10.00" text-anchor="middle" fill="#1e1e1e" stroke="#1e1e1e">Mean value</text>
<polyline points="344.10,201.60 353.75,202.30 363.40,195.80 373.05,194.30 382.70,193.60 392.35,196.30 402.00,195.40 411.65,195.00 421.30,192.70 430.95,193.90 440.60,192.80 450.25,194.60 459.90,187.70 469.55,188.00 479.20,188.60 488.85,189.90 498.50,187.70 508.15,189.50 517.80,184.40 527.45,186.40 537.10,187.10" fill="none" stroke="#fdd054" stroke-width="1.1" stroke-linejoin="round" />
<polyline points="344.10,198.50 353.75,199.40 363.40,193.60 373.05,190.90 382.70,189.60 392.35,192.70 402.00,191.40 411.65,190.90 421.30,187.80 430.95,189.00 440.60,188.00 450.25,189.10 459.90,182.20 469.55,182.20 479.20,183.10 488.85,183.70 498.50,181.30 508.15,183.70 517.80,178.00 527.45,180.90 537.10,180.40" fill="none" stroke="#f69a94" stroke-width="1.1" stroke-linejoin="round" />
<polyline points="344.10,188.70 353.75,191.40 363.40,184.50 373.05,179.00 382.70,177.20 392.35,182.30 402.00,178.50 411.65,181.40 421.30,175.40 430.95,176.30 440.60,175.90 450.25,177.30 459.90,168.60 469.55,168.60 479.20,168.90 488.85,168.00 498.50,167.10 508.15,169.90 517.80,162.20 527.45,168.60 537.10,164.00" fill="none" stroke="#3cb04c" stroke-width="1.1" stroke-linejoin="round" />
<polyline points="344.10,179.00 353.75,183.60 363.40,174.50 373.05,165.80 382.70,166.70 392.35,170.90 402.00,168.10 411.65,170.90 421.30,164.90 430.95,165.00 440.60,165.90 450.25,165.90 459.90,159.50 469.55,157.70 479.20,160.90 488.85,158.60 498.50,156.80 508.15,164.40 517.80,154.00 527.45,161.30 537.10,157.30" fill="none" stroke="#70b4e6" stroke-width="1.1" stroke-linejoin="round" />
<line x1="349.10" y1="124.10" x2="366.90" y2="124.10" stroke="#f69a94" stroke-width="1.1"/>
<text transform="translate(369.60,127.10) scale(0.9259,1)" font-size="9.50" text-anchor="start" fill="#1e1e1e" stroke="#1e1e1e">The Whole area</text>
<line x1="349.10" y1="137.20" x2="366.90" y2="137.20" stroke="#70b4e6" stroke-width="1.1"/>
<text transform="translate(369.60,139.90) scale(0.9259,1)" font-size="9.50" text-anchor="start" fill="#1e1e1e" stroke="#1e1e1e">Natural forests</text>
<line x1="349.10" y1="149.40" x2="366.90" y2="149.40" stroke="#3cb04c" stroke-width="1.1"/>
<text transform="translate(369.60,152.60) scale(0.9259,1)" font-size="9.50" text-anchor="start" fill="#1e1e1e" stroke="#1e1e1e">Planted forests</text>
<line x1="349.10" y1="160.60" x2="366.90" y2="160.60" stroke="#fdd054" stroke-width="1.1"/>
<text transform="translate(369.60,164.30) scale(0.9259,1)" font-size="9.50" text-anchor="start" fill="#1e1e1e" stroke="#1e1e1e">Other</text>
<text transform="translate(4.30,238.00)" font-size="11.00" text-anchor="start" fill="#1e1e1e" stroke="#1e1e1e" style="stroke-width:0.35px" letter-spacing="0.55">(e)</text>
<line x1="54.60" y1="240.60" x2="54.60" y2="305.30" stroke="#2a2a2a" stroke-width="1"/>
<line x1="54.10" y1="304.80" x2="257.30" y2="304.80" stroke="#2a2a2a" stroke-width="1"/>
<line x1="54.60" y1="304.80" x2="56.80" y2="304.80" stroke="#2a2a2a" stroke-width="0.9"/>
<line x1="54.60" y1="298.44" x2="56.00" y2="298.44" stroke="#2a2a2a" stroke-width="0.9"/>
<line x1="54.60" y1="292.08" x2="56.80" y2="292.08" stroke="#2a2a2a" stroke-width="0.9"/>
<line x1="54.60" y1="285.72" x2="56.00" y2="285.72" stroke="#2a2a2a" stroke-width="0.9"/>
<line x1="54.60" y1="279.36" x2="56.80" y2="279.36" stroke="#2a2a2a" stroke-width="0.9"/>
<line x1="54.60" y1="273.00" x2="56.00" y2="273.00" stroke="#2a2a2a" stroke-width="0.9"/>
<line x1="54.60" y1="266.64" x2="56.80" y2="266.64" stroke="#2a2a2a" stroke-width="0.9"/>
<line x1="54.60" y1="260.28" x2="56.00" y2="260.28" stroke="#2a2a2a" stroke-width="0.9"/>
<line x1="54.60" y1="253.92" x2="56.80" y2="253.92" stroke="#2a2a2a" stroke-width="0.9"/>
<line x1="54.60" y1="247.56" x2="56.00" y2="247.56" stroke="#2a2a2a" stroke-width="0.9"/>
<line x1="54.60" y1="241.20" x2="56.80" y2="241.20" stroke="#2a2a2a" stroke-width="0.9"/>
<text transform="translate(52.90,307.80) scale(0.9259,1)" font-size="9.07" text-anchor="end" fill="#1e1e1e" stroke="#1e1e1e">1<tspan dx="0.97">×</tspan><tspan dx="0.97">10</tspan><tspan font-size="6.05" dx="0.32" dy="-3.90">3</tspan></text>
<text transform="translate(52.90,295.08) scale(0.9259,1)" font-size="9.07" text-anchor="end" fill="#1e1e1e" stroke="#1e1e1e">2<tspan dx="0.97">×</tspan><tspan dx="0.97">10</tspan><tspan font-size="6.05" dx="0.32" dy="-3.90">3</tspan></text>
<text transform="translate(52.90,282.36) scale(0.9259,1)" font-size="9.07" text-anchor="end" fill="#1e1e1e" stroke="#1e1e1e">3<tspan dx="0.97">×</tspan><tspan dx="0.97">10</tspan><tspan font-size="6.05" dx="0.32" dy="-3.90">3</tspan></text>
<text transform="translate(52.90,269.64) scale(0.9259,1)" font-size="9.07" text-anchor="end" fill="#1e1e1e" stroke="#1e1e1e">4<tspan dx="0.97">×</tspan><tspan dx="0.97">10</tspan><tspan font-size="6.05" dx="0.32" dy="-3.90">3</tspan></text>
<text transform="translate(52.90,256.92) scale(0.9259,1)" font-size="9.07" text-anchor="end" fill="#1e1e1e" stroke="#1e1e1e">5<tspan dx="0.97">×</tspan><tspan dx="0.97">10</tspan><tspan font-size="6.05" dx="0.32" dy="-3.90">3</tspan></text>
<text transform="translate(52.90,244.20) scale(0.9259,1)" font-size="9.07" text-anchor="end" fill="#1e1e1e" stroke="#1e1e1e">6<tspan dx="0.97">×</tspan><tspan dx="0.97">10</tspan><tspan font-size="6.05" dx="0.32" dy="-3.90">3</tspan></text>
<line x1="59.30" y1="304.80" x2="59.30" y2="302.60" stroke="#2a2a2a" stroke-width="0.9"/>
<line x1="78.60" y1="304.80" x2="78.60" y2="303.40" stroke="#2a2a2a" stroke-width="0.9"/>
<line x1="97.90" y1="304.80" x2="97.90" y2="302.60" stroke="#2a2a2a" stroke-width="0.9"/>
<line x1="117.20" y1="304.80" x2="117.20" y2="303.40" stroke="#2a2a2a" stroke-width="0.9"/>
<line x1="136.50" y1="304.80" x2="136.50" y2="302.60" stroke="#2a2a2a" stroke-width="0.9"/>
<line x1="155.80" y1="304.80" x2="155.80" y2="303.40" stroke="#2a2a2a" stroke-width="0.9"/>
<line x1="175.10" y1="304.80" x2="175.10" y2="302.60" stroke="#2a2a2a" stroke-width="0.9"/>
<line x1="194.40" y1="304.80" x2="194.40" y2="303.40" stroke="#2a2a2a" stroke-width="0.9"/>
<line x1="213.70" y1="304.80" x2="213.70" y2="302.60" stroke="#2a2a2a" stroke-width="0.9"/>
<line x1="233.00" y1="304.80" x2="233.00" y2="303.40" stroke="#2a2a2a" stroke-width="0.9"/>
<line x1="252.30" y1="304.80" x2="252.30" y2="302.60" stroke="#2a2a2a" stroke-width="0.9"/>
<text transform="translate(59.30,315.90) scale(0.9259,1)" font-size="9.72" text-anchor="middle" fill="#1e1e1e" stroke="#1e1e1e">2000</text>
<text transform="translate(97.90,315.90) scale(0.9259,1)" font-size="9.72" text-anchor="middle" fill="#1e1e1e" stroke="#1e1e1e">2004</text>
<text transform="translate(136.50,315.90) scale(0.9259,1)" font-size="9.72" text-anchor="middle" fill="#1e1e1e" stroke="#1e1e1e">2008</text>
<text transform="translate(175.10,315.90) scale(0.9259,1)" font-size="9.72" text-anchor="middle" fill="#1e1e1e" stroke="#1e1e1e">2012</text>
<text transform="translate(213.70,315.90) scale(0.9259,1)" font-size="9.72" text-anchor="middle" fill="#1e1e1e" stroke="#1e1e1e">2016</text>
<text transform="translate(252.30,315.90) scale(0.9259,1)" font-size="9.72" text-anchor="middle" fill="#1e1e1e" stroke="#1e1e1e">2020</text>
<text transform="translate(16.60,270.80) rotate(-90)" font-size="9.80" text-anchor="middle" fill="#1e1e1e" stroke="#1e1e1e">Mean value</text>
<clipPath id="ce"><rect x="54.6" y="230" width="210" height="74.30"/></clipPath>
<polyline points="59.30,307.50 68.95,305.50 78.60,301.40 88.25,300.00 97.90,299.50 107.55,302.50 117.20,302.20 126.85,301.10 136.50,300.30 146.15,300.80 155.80,300.90 165.45,301.90 175.10,295.30 184.75,296.40 194.40,297.20 204.05,298.60 213.70,294.70 223.35,297.20 233.00,294.50 242.65,294.50 252.30,296.90" fill="none" stroke="#c98ae8" stroke-width="1.0" stroke-linejoin="round" clip-path="url(#ce)"/>
<polyline points="59.30,302.20 68.95,300.50 78.60,295.50 88.25,295.20 97.90,295.30 107.55,298.00 117.20,297.30 126.85,295.90 136.50,296.40 146.15,295.90 155.80,292.50 165.45,294.80 175.10,289.10 184.75,289.40 194.40,288.10 204.05,291.30 213.70,289.80 223.35,290.30 233.00,285.60 242.65,286.25 252.30,289.00" fill="none" stroke="#a4a42a" stroke-width="1.0" stroke-linejoin="round" clip-path="url(#ce)"/>
<polyline points="59.30,285.60 68.95,284.00 78.60,279.30 88.25,281.00 97.90,281.80 107.55,280.00 117.20,279.20 126.85,277.70 136.50,276.90 146.15,277.70 155.80,276.40 165.45,279.20 175.10,278.10 184.75,275.30 194.40,278.40 204.05,279.40 213.70,275.00 223.35,277.80 233.00,273.40 242.65,273.10 252.30,275.30" fill="none" stroke="#e8a42c" stroke-width="1.0" stroke-linejoin="round" clip-path="url(#ce)"/>
<polyline points="59.30,290.50 68.95,287.80 78.60,282.10 88.25,279.70 97.90,280.40 107.55,280.00 117.20,280.30 126.85,279.20 136.50,274.50 146.15,277.20 155.80,276.10 165.45,278.40 175.10,270.60 184.75,269.40 194.40,269.80 204.05,270.40 213.70,271.60 223.35,272.20 233.00,264.00 242.65,266.40 252.30,267.20" fill="none" stroke="#2485ea" stroke-width="1.0" stroke-linejoin="round" clip-path="url(#ce)"/>
<polyline points="59.30,288.70 68.95,289.20 78.60,280.20 88.25,277.80 97.90,277.70 107.55,279.70 117.20,277.70 126.85,276.90 136.50,275.00 146.15,273.40 155.80,271.70 165.45,274.10 175.10,266.70 184.75,266.25 194.40,266.70 204.05,265.90 213.70,265.60 223.35,266.40 233.00,261.25 242.65,265.60 252.30,264.40" fill="none" stroke="#1ccfe0" stroke-width="1.0" stroke-linejoin="round" clip-path="url(#ce)"/>
<polyline points="59.30,283.10 68.95,288.50 78.60,281.20 88.25,275.40 97.90,274.10 107.55,279.80 117.20,276.90 126.85,280.00 136.50,273.00 146.15,274.50 155.80,275.70 165.45,274.50 175.10,268.30 184.75,268.75 194.40,269.40 204.05,270.10 213.70,264.40 223.35,270.30 233.00,263.75 242.65,269.50 252.30,265.60" fill="none" stroke="#a0646e" stroke-width="1.0" stroke-linejoin="round" clip-path="url(#ce)"/>
<polyline points="59.30,278.30 68.95,283.40 78.60,279.40 88.25,268.50 97.90,265.90 107.55,272.60 117.20,268.30 126.85,271.40 136.50,268.75 146.15,269.80 155.80,270.60 165.45,274.10 175.10,264.40 184.75,271.90 194.40,272.20 204.05,262.30 213.70,264.40 223.35,267.20 233.00,257.80 242.65,270.00 252.30,259.40" fill="none" stroke="#26b878" stroke-width="1.0" stroke-linejoin="round" clip-path="url(#ce)"/>
<line x1="296.00" y1="239.10" x2="312.50" y2="239.10" stroke="#2485ea" stroke-width="1.1"/>
<text transform="translate(315.10,241.70) scale(0.9259,1)" font-size="9.58" text-anchor="start" fill="#2485ea" stroke="#2485ea">Gansu, y = 81.08x + 2352.2, R² = 0.86</text>
<line x1="296.00" y1="251.20" x2="312.50" y2="251.20" stroke="#26b878" stroke-width="1.1"/>
<text transform="translate(315.10,253.80) scale(0.9259,1)" font-size="9.58" text-anchor="start" fill="#26b878" stroke="#26b878">Henan, y = 53.23x + 3162, R² = 0.48</text>
<line x1="296.00" y1="263.20" x2="312.50" y2="263.20" stroke="#c98ae8" stroke-width="1.1"/>
<text transform="translate(315.10,265.80) scale(0.9259,1)" font-size="9.58" text-anchor="start" fill="#c98ae8" stroke="#c98ae8">Inner Mongolia, y = 35.49x + 1038.1, R² = 0.70</text>
<line x1="296.00" y1="275.20" x2="312.50" y2="275.20" stroke="#e8a42c" stroke-width="1.1"/>
<text transform="translate(315.10,277.80) scale(0.9259,1)" font-size="9.58" text-anchor="start" fill="#e8a42c" stroke="#e8a42c">Qinghai, y = 33.49x + 2692.5, R² = 0.67</text>
<line x1="296.00" y1="287.10" x2="312.50" y2="287.10" stroke="#1ccfe0" stroke-width="1.1"/>
<text transform="translate(315.10,289.70) scale(0.9259,1)" font-size="9.58" text-anchor="start" fill="#1ccfe0" stroke="#1ccfe0">Shaanxi, y = 91.95x + 2450.8, R² = 0.87</text>
<line x1="296.00" y1="299.20" x2="312.50" y2="299.20" stroke="#a0646e" stroke-width="1.1"/>
<text transform="translate(315.10,301.80) scale(0.9259,1)" font-size="9.58" text-anchor="start" fill="#a0646e" stroke="#a0646e">Shanxi, y = 72.87x + 2614.7, R² = 0.77</text>
<line x1="296.00" y1="311.20" x2="312.50" y2="311.20" stroke="#a4a42a" stroke-width="1.1"/>
<text transform="translate(315.10,313.80) scale(0.9259,1)" font-size="9.58" text-anchor="start" fill="#a4a42a" stroke="#a4a42a">Ningxia, y = 51.52x + 1335.3, R² = 0.78</text>
</svg>
</body></html>
